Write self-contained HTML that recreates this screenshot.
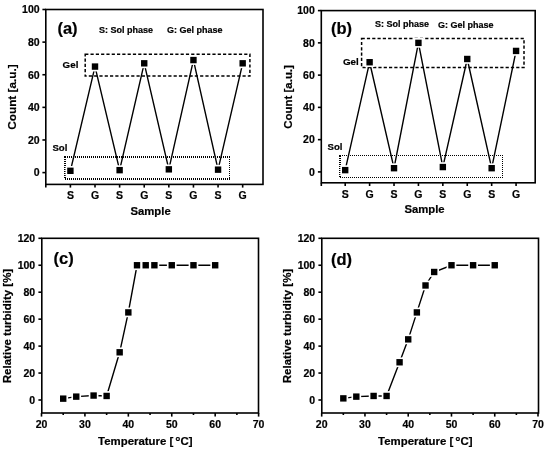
<!DOCTYPE html>
<html><head><meta charset="utf-8"><title>Figure</title><style>html,body{margin:0;padding:0;background:#fff;width:550px;height:450px;overflow:hidden}svg{display:block}text{font-family:'Liberation Sans', Arial, sans-serif;font-weight:bold;fill:#000;stroke:#000;stroke-width:0.2px}</style></head><body>
<svg width="550" height="450" viewBox="0 0 550 450">
<rect width="550" height="450" fill="#fff"/>
<rect x="85.2" y="54.2" width="164.7" height="21.9" fill="none" stroke="#000" stroke-width="1.5" stroke-dasharray="3.2 2.1"/>
<rect x="65" y="157" width="164.5" height="22" fill="none" stroke="#000" stroke-width="1.2" stroke-dasharray="1 1" shape-rendering="crispEdges"/>
<rect x="45.8" y="9.5" width="217.2" height="174.9" fill="none" stroke="#000" stroke-width="1.6"/>
<line x1="42.4" y1="172.6" x2="45.8" y2="172.6" stroke="#000" stroke-width="1.6"/>
<text x="39.6" y="176.4" text-anchor="end" font-size="10.5">0</text>
<line x1="42.4" y1="139.98" x2="45.8" y2="139.98" stroke="#000" stroke-width="1.6"/>
<text x="39.6" y="143.78" text-anchor="end" font-size="10.5">20</text>
<line x1="42.4" y1="107.36" x2="45.8" y2="107.36" stroke="#000" stroke-width="1.6"/>
<text x="39.6" y="111.16" text-anchor="end" font-size="10.5">40</text>
<line x1="42.4" y1="74.74" x2="45.8" y2="74.74" stroke="#000" stroke-width="1.6"/>
<text x="39.6" y="78.54" text-anchor="end" font-size="10.5">60</text>
<line x1="42.4" y1="42.12" x2="45.8" y2="42.12" stroke="#000" stroke-width="1.6"/>
<text x="39.6" y="45.92" text-anchor="end" font-size="10.5">80</text>
<line x1="42.4" y1="9.5" x2="45.8" y2="9.5" stroke="#000" stroke-width="1.6"/>
<text x="39.6" y="13.3" text-anchor="end" font-size="10.5">100</text>
<line x1="45.8" y1="184.4" x2="45.8" y2="187.6" stroke="#000" stroke-width="1.6"/>
<line x1="70.4" y1="184.4" x2="70.4" y2="187.6" stroke="#000" stroke-width="1.6"/>
<text x="70.4" y="199.2" text-anchor="middle" font-size="10.5">S</text>
<line x1="95.01" y1="184.4" x2="95.01" y2="187.6" stroke="#000" stroke-width="1.6"/>
<text x="95.01" y="199.2" text-anchor="middle" font-size="10.5">G</text>
<line x1="119.62" y1="184.4" x2="119.62" y2="187.6" stroke="#000" stroke-width="1.6"/>
<text x="119.62" y="199.2" text-anchor="middle" font-size="10.5">S</text>
<line x1="144.23" y1="184.4" x2="144.23" y2="187.6" stroke="#000" stroke-width="1.6"/>
<text x="144.23" y="199.2" text-anchor="middle" font-size="10.5">G</text>
<line x1="168.84" y1="184.4" x2="168.84" y2="187.6" stroke="#000" stroke-width="1.6"/>
<text x="168.84" y="199.2" text-anchor="middle" font-size="10.5">S</text>
<line x1="193.45" y1="184.4" x2="193.45" y2="187.6" stroke="#000" stroke-width="1.6"/>
<text x="193.45" y="199.2" text-anchor="middle" font-size="10.5">G</text>
<line x1="218.06" y1="184.4" x2="218.06" y2="187.6" stroke="#000" stroke-width="1.6"/>
<text x="218.06" y="199.2" text-anchor="middle" font-size="10.5">S</text>
<line x1="242.67" y1="184.4" x2="242.67" y2="187.6" stroke="#000" stroke-width="1.6"/>
<text x="242.67" y="199.2" text-anchor="middle" font-size="10.5">G</text>
<path d="M70.4,170.81 L95.01,66.58 L119.62,170.15 L144.23,63.32 L168.84,169.34 L193.45,60.06 L218.06,169.66 L242.67,63.32" fill="none" stroke="#000" stroke-width="1.4" stroke-linejoin="miter"/>
<rect x="67.2" y="167.61" width="6.4" height="6.4" fill="#000" stroke="#fff" stroke-width="3.3" paint-order="stroke"/>
<rect x="91.81" y="63.38" width="6.4" height="6.4" fill="#000" stroke="#fff" stroke-width="3.3" paint-order="stroke"/>
<rect x="116.42" y="166.95" width="6.4" height="6.4" fill="#000" stroke="#fff" stroke-width="3.3" paint-order="stroke"/>
<rect x="141.03" y="60.12" width="6.4" height="6.4" fill="#000" stroke="#fff" stroke-width="3.3" paint-order="stroke"/>
<rect x="165.64" y="166.14" width="6.4" height="6.4" fill="#000" stroke="#fff" stroke-width="3.3" paint-order="stroke"/>
<rect x="190.25" y="56.86" width="6.4" height="6.4" fill="#000" stroke="#fff" stroke-width="3.3" paint-order="stroke"/>
<rect x="214.86" y="166.46" width="6.4" height="6.4" fill="#000" stroke="#fff" stroke-width="3.3" paint-order="stroke"/>
<rect x="239.47" y="60.12" width="6.4" height="6.4" fill="#000" stroke="#fff" stroke-width="3.3" paint-order="stroke"/>
<text x="57.4" y="33.8" text-anchor="start" font-size="16.5" >(a)</text>
<text x="99" y="32.5" text-anchor="start" font-size="9" >S: Sol phase</text>
<text x="167" y="32.7" text-anchor="start" font-size="9" >G: Gel phase</text>
<text x="62.6" y="68.4" text-anchor="start" font-size="9.8" >Gel</text>
<text x="52.4" y="151" text-anchor="start" font-size="9.6" >Sol</text>
<text x="150.6" y="214.9" text-anchor="middle" font-size="11.3" >Sample</text>
<text transform="translate(16.2,97) rotate(-90)" x="0" y="0" text-anchor="middle" font-size="11.8">Count [a.u.]</text>
<rect x="361.6" y="38.4" width="162.4" height="29.1" fill="none" stroke="#000" stroke-width="1.5" stroke-dasharray="3.2 2.1"/>
<rect x="340" y="155.5" width="162.5" height="22" fill="none" stroke="#000" stroke-width="1.2" stroke-dasharray="1 1" shape-rendering="crispEdges"/>
<rect x="321.3" y="10.6" width="213.9" height="172.2" fill="none" stroke="#000" stroke-width="1.6"/>
<line x1="317.9" y1="171.9" x2="321.3" y2="171.9" stroke="#000" stroke-width="1.6"/>
<text x="314.8" y="175.7" text-anchor="end" font-size="10.5">0</text>
<line x1="317.9" y1="139.64" x2="321.3" y2="139.64" stroke="#000" stroke-width="1.6"/>
<text x="314.8" y="143.44" text-anchor="end" font-size="10.5">20</text>
<line x1="317.9" y1="107.38" x2="321.3" y2="107.38" stroke="#000" stroke-width="1.6"/>
<text x="314.8" y="111.18" text-anchor="end" font-size="10.5">40</text>
<line x1="317.9" y1="75.12" x2="321.3" y2="75.12" stroke="#000" stroke-width="1.6"/>
<text x="314.8" y="78.92" text-anchor="end" font-size="10.5">60</text>
<line x1="317.9" y1="42.86" x2="321.3" y2="42.86" stroke="#000" stroke-width="1.6"/>
<text x="314.8" y="46.66" text-anchor="end" font-size="10.5">80</text>
<line x1="317.9" y1="10.6" x2="321.3" y2="10.6" stroke="#000" stroke-width="1.6"/>
<text x="314.8" y="14.4" text-anchor="end" font-size="10.5">100</text>
<line x1="321.3" y1="182.8" x2="321.3" y2="186" stroke="#000" stroke-width="1.6"/>
<line x1="345.2" y1="182.8" x2="345.2" y2="186" stroke="#000" stroke-width="1.6"/>
<text x="345.2" y="197.5" text-anchor="middle" font-size="10.5">S</text>
<line x1="369.61" y1="182.8" x2="369.61" y2="186" stroke="#000" stroke-width="1.6"/>
<text x="369.61" y="197.5" text-anchor="middle" font-size="10.5">G</text>
<line x1="394.02" y1="182.8" x2="394.02" y2="186" stroke="#000" stroke-width="1.6"/>
<text x="394.02" y="197.5" text-anchor="middle" font-size="10.5">S</text>
<line x1="418.43" y1="182.8" x2="418.43" y2="186" stroke="#000" stroke-width="1.6"/>
<text x="418.43" y="197.5" text-anchor="middle" font-size="10.5">G</text>
<line x1="442.84" y1="182.8" x2="442.84" y2="186" stroke="#000" stroke-width="1.6"/>
<text x="442.84" y="197.5" text-anchor="middle" font-size="10.5">S</text>
<line x1="467.25" y1="182.8" x2="467.25" y2="186" stroke="#000" stroke-width="1.6"/>
<text x="467.25" y="197.5" text-anchor="middle" font-size="10.5">G</text>
<line x1="491.66" y1="182.8" x2="491.66" y2="186" stroke="#000" stroke-width="1.6"/>
<text x="491.66" y="197.5" text-anchor="middle" font-size="10.5">S</text>
<line x1="516.07" y1="182.8" x2="516.07" y2="186" stroke="#000" stroke-width="1.6"/>
<text x="516.07" y="197.5" text-anchor="middle" font-size="10.5">G</text>
<path d="M345.2,170.13 L369.61,62.22 L394.02,168.19 L418.43,42.86 L442.84,167.06 L467.25,58.99 L491.66,168.19 L516.07,50.93" fill="none" stroke="#000" stroke-width="1.4" stroke-linejoin="miter"/>
<rect x="342" y="166.93" width="6.4" height="6.4" fill="#000" stroke="#fff" stroke-width="3.3" paint-order="stroke"/>
<rect x="366.41" y="59.02" width="6.4" height="6.4" fill="#000" stroke="#fff" stroke-width="3.3" paint-order="stroke"/>
<rect x="390.82" y="164.99" width="6.4" height="6.4" fill="#000" stroke="#fff" stroke-width="3.3" paint-order="stroke"/>
<rect x="415.23" y="39.66" width="6.4" height="6.4" fill="#000" stroke="#fff" stroke-width="3.3" paint-order="stroke"/>
<rect x="439.64" y="163.86" width="6.4" height="6.4" fill="#000" stroke="#fff" stroke-width="3.3" paint-order="stroke"/>
<rect x="464.05" y="55.79" width="6.4" height="6.4" fill="#000" stroke="#fff" stroke-width="3.3" paint-order="stroke"/>
<rect x="488.46" y="164.99" width="6.4" height="6.4" fill="#000" stroke="#fff" stroke-width="3.3" paint-order="stroke"/>
<rect x="512.87" y="47.73" width="6.4" height="6.4" fill="#000" stroke="#fff" stroke-width="3.3" paint-order="stroke"/>
<text x="331" y="33.6" text-anchor="start" font-size="16.5" >(b)</text>
<text x="375" y="27.2" text-anchor="start" font-size="9" >S: Sol phase</text>
<text x="438" y="28.1" text-anchor="start" font-size="9" >G: Gel phase</text>
<text x="343" y="65.4" text-anchor="start" font-size="9.8" >Gel</text>
<text x="327.6" y="150.4" text-anchor="start" font-size="9.6" >Sol</text>
<text x="424.5" y="212.8" text-anchor="middle" font-size="11.3" >Sample</text>
<text transform="translate(292.2,96.9) rotate(-90)" x="0" y="0" text-anchor="middle" font-size="11.45">Count [a.u.]</text>
<rect x="41.8" y="238.3" width="216.7" height="174.7" fill="none" stroke="#000" stroke-width="1.6"/>
<line x1="38.4" y1="400" x2="41.8" y2="400" stroke="#000" stroke-width="1.6"/>
<text x="35.2" y="403.8" text-anchor="end" font-size="10.5">0</text>
<line x1="38.4" y1="373.05" x2="41.8" y2="373.05" stroke="#000" stroke-width="1.6"/>
<text x="35.2" y="376.85" text-anchor="end" font-size="10.5">20</text>
<line x1="38.4" y1="346.1" x2="41.8" y2="346.1" stroke="#000" stroke-width="1.6"/>
<text x="35.2" y="349.9" text-anchor="end" font-size="10.5">40</text>
<line x1="38.4" y1="319.15" x2="41.8" y2="319.15" stroke="#000" stroke-width="1.6"/>
<text x="35.2" y="322.95" text-anchor="end" font-size="10.5">60</text>
<line x1="38.4" y1="292.2" x2="41.8" y2="292.2" stroke="#000" stroke-width="1.6"/>
<text x="35.2" y="296" text-anchor="end" font-size="10.5">80</text>
<line x1="38.4" y1="265.25" x2="41.8" y2="265.25" stroke="#000" stroke-width="1.6"/>
<text x="35.2" y="269.05" text-anchor="end" font-size="10.5">100</text>
<line x1="38.4" y1="238.3" x2="41.8" y2="238.3" stroke="#000" stroke-width="1.6"/>
<text x="35.2" y="242.1" text-anchor="end" font-size="10.5">120</text>
<line x1="41.5" y1="413" x2="41.5" y2="416.6" stroke="#000" stroke-width="1.6"/>
<text x="41.5" y="428" text-anchor="middle" font-size="10.5">20</text>
<line x1="84.92" y1="413" x2="84.92" y2="416.6" stroke="#000" stroke-width="1.6"/>
<text x="84.92" y="428" text-anchor="middle" font-size="10.5">30</text>
<line x1="128.34" y1="413" x2="128.34" y2="416.6" stroke="#000" stroke-width="1.6"/>
<text x="128.34" y="428" text-anchor="middle" font-size="10.5">40</text>
<line x1="171.76" y1="413" x2="171.76" y2="416.6" stroke="#000" stroke-width="1.6"/>
<text x="171.76" y="428" text-anchor="middle" font-size="10.5">50</text>
<line x1="215.18" y1="413" x2="215.18" y2="416.6" stroke="#000" stroke-width="1.6"/>
<text x="215.18" y="428" text-anchor="middle" font-size="10.5">60</text>
<line x1="258.6" y1="413" x2="258.6" y2="416.6" stroke="#000" stroke-width="1.6"/>
<text x="258.6" y="428" text-anchor="middle" font-size="10.5">70</text>
<line x1="63.21" y1="413" x2="63.21" y2="415" stroke="#000" stroke-width="1.6"/>
<line x1="106.63" y1="413" x2="106.63" y2="415" stroke="#000" stroke-width="1.6"/>
<line x1="150.05" y1="413" x2="150.05" y2="415" stroke="#000" stroke-width="1.6"/>
<line x1="193.47" y1="413" x2="193.47" y2="415" stroke="#000" stroke-width="1.6"/>
<line x1="236.89" y1="413" x2="236.89" y2="415" stroke="#000" stroke-width="1.6"/>
<path d="M63.21,398.65 L76.24,396.63 L93.6,395.55 L106.63,395.96 L119.66,352.3 L128.34,312.41 L137.02,265.25 L145.71,265.25 L154.39,265.25 L171.76,265.25 L193.47,265.25 L215.18,265.25" fill="none" stroke="#000" stroke-width="1.4" stroke-linejoin="miter"/>
<rect x="60.01" y="395.45" width="6.4" height="6.4" fill="#000" stroke="#fff" stroke-width="3.3" paint-order="stroke"/>
<rect x="73.04" y="393.43" width="6.4" height="6.4" fill="#000" stroke="#fff" stroke-width="3.3" paint-order="stroke"/>
<rect x="90.4" y="392.35" width="6.4" height="6.4" fill="#000" stroke="#fff" stroke-width="3.3" paint-order="stroke"/>
<rect x="103.43" y="392.76" width="6.4" height="6.4" fill="#000" stroke="#fff" stroke-width="3.3" paint-order="stroke"/>
<rect x="116.46" y="349.1" width="6.4" height="6.4" fill="#000" stroke="#fff" stroke-width="3.3" paint-order="stroke"/>
<rect x="125.14" y="309.21" width="6.4" height="6.4" fill="#000" stroke="#fff" stroke-width="3.3" paint-order="stroke"/>
<rect x="133.82" y="262.05" width="6.4" height="6.4" fill="#000" stroke="#fff" stroke-width="3.3" paint-order="stroke"/>
<rect x="142.51" y="262.05" width="6.4" height="6.4" fill="#000" stroke="#fff" stroke-width="3.3" paint-order="stroke"/>
<rect x="151.19" y="262.05" width="6.4" height="6.4" fill="#000" stroke="#fff" stroke-width="3.3" paint-order="stroke"/>
<rect x="168.56" y="262.05" width="6.4" height="6.4" fill="#000" stroke="#fff" stroke-width="3.3" paint-order="stroke"/>
<rect x="190.27" y="262.05" width="6.4" height="6.4" fill="#000" stroke="#fff" stroke-width="3.3" paint-order="stroke"/>
<rect x="211.98" y="262.05" width="6.4" height="6.4" fill="#000" stroke="#fff" stroke-width="3.3" paint-order="stroke"/>
<text x="53.5" y="263.5" text-anchor="start" font-size="16.5" >(c)</text>
<text x="145.3" y="444.6" text-anchor="middle" font-size="11.4" >Temperature [<tspan dx="2" dy="1.1" font-size="13">°</tspan><tspan dy="-1.1">C]</tspan></text>
<text transform="translate(11,326) rotate(-90)" x="0" y="0" text-anchor="middle" font-size="11.5">Relative turbidity [%]</text>
<rect x="321.8" y="238.3" width="216.7" height="174.7" fill="none" stroke="#000" stroke-width="1.6"/>
<line x1="318.4" y1="400" x2="321.8" y2="400" stroke="#000" stroke-width="1.6"/>
<text x="315.2" y="403.8" text-anchor="end" font-size="10.5">0</text>
<line x1="318.4" y1="373.05" x2="321.8" y2="373.05" stroke="#000" stroke-width="1.6"/>
<text x="315.2" y="376.85" text-anchor="end" font-size="10.5">20</text>
<line x1="318.4" y1="346.1" x2="321.8" y2="346.1" stroke="#000" stroke-width="1.6"/>
<text x="315.2" y="349.9" text-anchor="end" font-size="10.5">40</text>
<line x1="318.4" y1="319.15" x2="321.8" y2="319.15" stroke="#000" stroke-width="1.6"/>
<text x="315.2" y="322.95" text-anchor="end" font-size="10.5">60</text>
<line x1="318.4" y1="292.2" x2="321.8" y2="292.2" stroke="#000" stroke-width="1.6"/>
<text x="315.2" y="296" text-anchor="end" font-size="10.5">80</text>
<line x1="318.4" y1="265.25" x2="321.8" y2="265.25" stroke="#000" stroke-width="1.6"/>
<text x="315.2" y="269.05" text-anchor="end" font-size="10.5">100</text>
<line x1="318.4" y1="238.3" x2="321.8" y2="238.3" stroke="#000" stroke-width="1.6"/>
<text x="315.2" y="242.1" text-anchor="end" font-size="10.5">120</text>
<line x1="321.7" y1="413" x2="321.7" y2="416.6" stroke="#000" stroke-width="1.6"/>
<text x="321.7" y="428" text-anchor="middle" font-size="10.5">20</text>
<line x1="364.96" y1="413" x2="364.96" y2="416.6" stroke="#000" stroke-width="1.6"/>
<text x="364.96" y="428" text-anchor="middle" font-size="10.5">30</text>
<line x1="408.22" y1="413" x2="408.22" y2="416.6" stroke="#000" stroke-width="1.6"/>
<text x="408.22" y="428" text-anchor="middle" font-size="10.5">40</text>
<line x1="451.48" y1="413" x2="451.48" y2="416.6" stroke="#000" stroke-width="1.6"/>
<text x="451.48" y="428" text-anchor="middle" font-size="10.5">50</text>
<line x1="494.74" y1="413" x2="494.74" y2="416.6" stroke="#000" stroke-width="1.6"/>
<text x="494.74" y="428" text-anchor="middle" font-size="10.5">60</text>
<line x1="538" y1="413" x2="538" y2="416.6" stroke="#000" stroke-width="1.6"/>
<text x="538" y="428" text-anchor="middle" font-size="10.5">70</text>
<line x1="343.33" y1="413" x2="343.33" y2="415" stroke="#000" stroke-width="1.6"/>
<line x1="386.59" y1="413" x2="386.59" y2="415" stroke="#000" stroke-width="1.6"/>
<line x1="429.85" y1="413" x2="429.85" y2="415" stroke="#000" stroke-width="1.6"/>
<line x1="473.11" y1="413" x2="473.11" y2="415" stroke="#000" stroke-width="1.6"/>
<line x1="516.37" y1="413" x2="516.37" y2="415" stroke="#000" stroke-width="1.6"/>
<path d="M343.33,398.38 L356.31,396.63 L373.61,395.96 L386.59,395.96 L399.57,362.27 L408.22,339.36 L416.87,312.41 L425.52,285.46 L434.18,271.99 L451.48,265.25 L473.11,265.25 L494.74,265.25" fill="none" stroke="#000" stroke-width="1.4" stroke-linejoin="miter"/>
<rect x="340.13" y="395.18" width="6.4" height="6.4" fill="#000" stroke="#fff" stroke-width="3.3" paint-order="stroke"/>
<rect x="353.11" y="393.43" width="6.4" height="6.4" fill="#000" stroke="#fff" stroke-width="3.3" paint-order="stroke"/>
<rect x="370.41" y="392.76" width="6.4" height="6.4" fill="#000" stroke="#fff" stroke-width="3.3" paint-order="stroke"/>
<rect x="383.39" y="392.76" width="6.4" height="6.4" fill="#000" stroke="#fff" stroke-width="3.3" paint-order="stroke"/>
<rect x="396.37" y="359.07" width="6.4" height="6.4" fill="#000" stroke="#fff" stroke-width="3.3" paint-order="stroke"/>
<rect x="405.02" y="336.16" width="6.4" height="6.4" fill="#000" stroke="#fff" stroke-width="3.3" paint-order="stroke"/>
<rect x="413.67" y="309.21" width="6.4" height="6.4" fill="#000" stroke="#fff" stroke-width="3.3" paint-order="stroke"/>
<rect x="422.32" y="282.26" width="6.4" height="6.4" fill="#000" stroke="#fff" stroke-width="3.3" paint-order="stroke"/>
<rect x="430.98" y="268.79" width="6.4" height="6.4" fill="#000" stroke="#fff" stroke-width="3.3" paint-order="stroke"/>
<rect x="448.28" y="262.05" width="6.4" height="6.4" fill="#000" stroke="#fff" stroke-width="3.3" paint-order="stroke"/>
<rect x="469.91" y="262.05" width="6.4" height="6.4" fill="#000" stroke="#fff" stroke-width="3.3" paint-order="stroke"/>
<rect x="491.54" y="262.05" width="6.4" height="6.4" fill="#000" stroke="#fff" stroke-width="3.3" paint-order="stroke"/>
<text x="331" y="264.8" text-anchor="start" font-size="16.5" >(d)</text>
<text x="425.3" y="444.6" text-anchor="middle" font-size="11.4" >Temperature [<tspan dx="2" dy="1.1" font-size="13">°</tspan><tspan dy="-1.1">C]</tspan></text>
<text transform="translate(291,326) rotate(-90)" x="0" y="0" text-anchor="middle" font-size="11.5">Relative turbidity [%]</text>
</svg></body></html>
